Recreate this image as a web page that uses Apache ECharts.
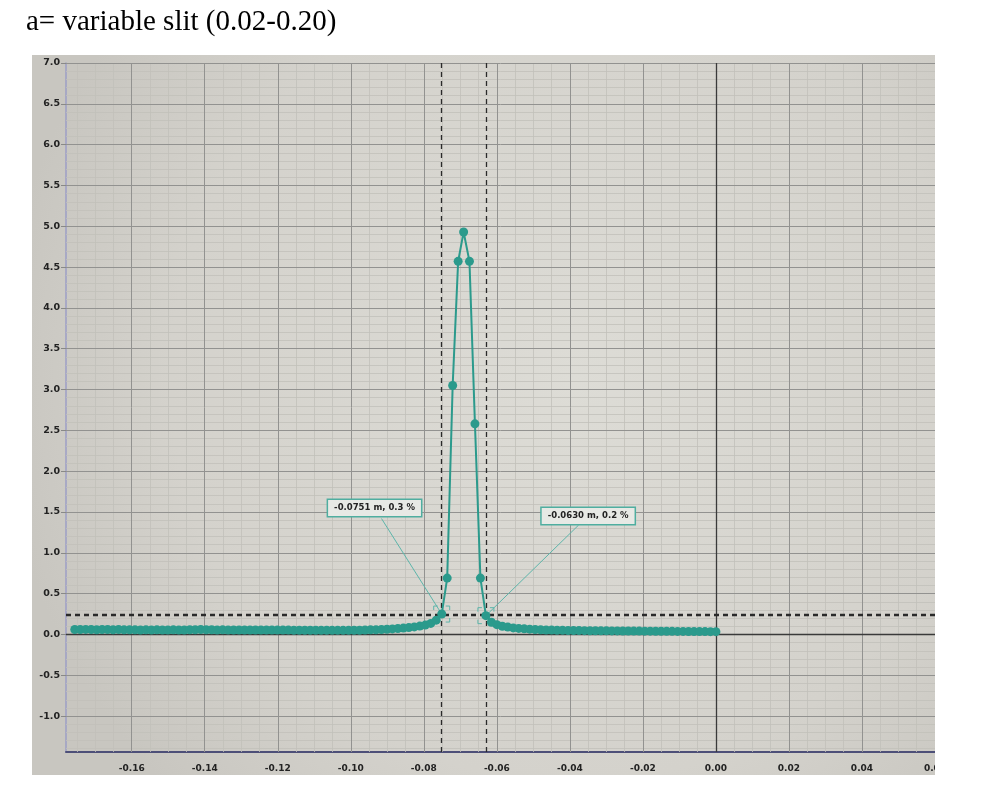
<!DOCTYPE html>
<html><head><meta charset="utf-8">
<script src="https://cdn.jsdelivr.net/npm/echarts@6/dist/echarts.min.js"></script>
<style>html,body{margin:0;padding:0;background:#fff}#c{width:996px;height:802px}</style>
</head><body><div id="c"></div>
<script>
const titleText = 'a= variable slit (0.02-0.20)';

const xValues = [
 -0.1756,-0.1741,-0.1726,-0.1711,-0.1696,-0.1681,-0.1666,-0.1651,-0.1636,-0.1621,
 -0.1606,-0.1591,-0.1576,-0.1561,-0.1546,-0.1531,-0.1516,-0.1501,-0.1486,-0.1471,
 -0.1456,-0.1441,-0.1426,-0.1411,-0.1396,-0.1381,-0.1366,-0.1351,-0.1336,-0.1321,
 -0.1306,-0.1291,-0.1276,-0.1261,-0.1246,-0.1231,-0.1216,-0.1201,-0.1186,-0.1171,
 -0.1156,-0.1141,-0.1126,-0.1111,-0.1096,-0.1081,-0.1066,-0.1051,-0.1036,-0.1021,
 -0.1006,-0.0991,-0.0976,-0.0961,-0.0946,-0.0931,-0.0916,-0.0901,-0.0886,-0.0871,
 -0.0856,-0.0841,-0.0826,-0.0811,-0.0796,-0.0781,-0.0766,-0.0751,
 -0.0736,-0.0721,-0.0706,-0.0691,-0.0675,-0.0660,-0.0645,-0.0630,
 -0.0615,-0.0600,-0.0585,-0.0570,-0.0555,-0.0540,-0.0525,-0.0510,-0.0495,-0.0480,
 -0.0465,-0.0450,-0.0435,-0.0420,-0.0405,-0.0390,-0.0375,-0.0360,-0.0345,-0.0330,
 -0.0315,-0.0300,-0.0285,-0.0270,-0.0255,-0.0240,-0.0225,-0.0210,-0.0195,-0.0180,
 -0.0165,-0.0150,-0.0135,-0.0120,-0.0105,-0.0090,-0.0075,-0.0060,-0.0045,-0.0030,
 -0.0015,0.0000
];
const yValues = [
 0.060,0.060,0.062,0.060,0.058,0.060,0.060,0.058,0.060,0.056,
 0.056,0.056,0.055,0.056,0.055,0.056,0.055,0.055,0.056,0.055,
 0.055,0.058,0.058,0.060,0.058,0.058,0.055,0.056,0.055,0.055,
 0.055,0.054,0.055,0.054,0.055,0.054,0.054,0.053,0.054,0.053,
 0.052,0.052,0.051,0.052,0.051,0.050,0.051,0.050,0.050,0.050,
 0.050,0.051,0.052,0.054,0.056,0.058,0.060,0.064,0.068,0.073,
 0.078,0.084,0.092,0.102,0.115,0.135,0.175,0.250,
 0.690,3.050,4.570,4.930,4.570,2.580,0.690,0.230,
 0.150,0.120,0.100,0.090,0.080,0.074,0.069,0.065,0.061,0.058,
 0.055,0.053,0.051,0.050,0.049,0.048,0.047,0.046,0.045,0.045,
 0.044,0.044,0.043,0.043,0.042,0.042,0.041,0.041,0.040,0.040,
 0.039,0.039,0.038,0.038,0.037,0.037,0.036,0.036,0.035,0.035,
 0.034,0.034
];

const xTickLabels = [-0.16,-0.14,-0.12,-0.10,-0.08,-0.06,-0.04,-0.02,0.00,0.02,0.04,0.06];
const yTickLabels = [-1.0,-0.5,0.0,0.5,1.0,1.5,2.0,2.5,3.0,3.5,4.0,4.5,5.0,5.5,6.0,6.5,7.0];
const xMinor = [-0.175,-0.17,-0.165,-0.155,-0.15,-0.145,-0.135,-0.13,-0.125,-0.115,-0.11,-0.105,
 -0.095,-0.09,-0.085,-0.075,-0.07,-0.065,-0.055,-0.05,-0.045,-0.035,-0.03,-0.025,-0.015,-0.01,-0.005,
 0.005,0.01,0.015,0.025,0.03,0.035,0.045,0.05,0.055];
const yMinor = [-1.4,-1.3,-1.2,-1.1,-0.9,-0.8,-0.7,-0.6,-0.4,-0.3,-0.2,-0.1,0.1,0.2,0.3,0.4,
 0.6,0.7,0.8,0.9,1.1,1.2,1.3,1.4,1.6,1.7,1.8,1.9,2.1,2.2,2.3,2.4,2.6,2.7,2.8,2.9,
 3.1,3.2,3.3,3.4,3.6,3.7,3.8,3.9,4.1,4.2,4.3,4.4,4.6,4.7,4.8,4.9,5.1,5.2,5.3,5.4,
 5.6,5.7,5.8,5.9,6.1,6.2,6.3,6.4,6.6,6.7,6.8,6.9];

const thresholdX = [-0.0751, -0.0630];
const thresholdY = [0.25, 0.23];
const annotationText = ['-0.0751 m, 0.3 %', '-0.0630 m, 0.2 %'];
const annotationPoint = [[-0.0751, 0.25], [-0.0630, 0.23]];
const annotationBox = [[-0.0935, 1.55], [-0.0350, 1.45]];
const leaderStart = [[-0.0916, 1.42], [-0.0376, 1.34]];

const teal = '#2b9a8c';
const chart = echarts.init(document.getElementById('c'));
const fmt = v => (Math.abs(v) < 1e-9 ? 0 : v).toFixed(2);
const mlBase = { silent: true, symbol: ['none', 'none'], label: { show: false }, animation: false, precision: 6 };

chart.setOption({
  animation: false,
  backgroundColor: '#ffffff',
  title: {
    text: titleText, left: 21, top: 3,
    textStyle: { fontFamily: 'Liberation Serif', fontSize: 29, fontWeight: 'normal', color: '#000' }
  },
  graphic: [
    { type: 'rect', z: -100, shape: { x: 32, y: 55, width: 903, height: 720 },
      style: { fill: new echarts.graphic.RadialGradient(0.6, 0.45, 0.8, [
        { offset: 0, color: '#dddcd6' }, { offset: 0.7, color: '#d4d2cc' }, { offset: 1, color: '#c8c6c0' }]) } },
    { type: 'rect', z: 100, shape: { x: 935, y: 0, width: 61, height: 802 }, style: { fill: '#ffffff' } }
  ],
  grid: { left: 66, right: 61, top: 63, bottom: 50 },
  xAxis: {
    type: 'value', min: -0.178, max: 0.06,
    axisLine: { show: true, onZero: false, lineStyle: { color: '#4d4f78', width: 2 } },
    axisTick: { show: false, customValues: xTickLabels },
    axisLabel: { customValues: xTickLabels, formatter: fmt, fontFamily: 'DejaVu Sans', fontWeight: 'bold',
      fontSize: 9, color: '#222', margin: 12 },
    splitLine: { show: false }
  },
  yAxis: {
    type: 'value', min: -1.44, max: 7.0,
    axisLine: { show: true, onZero: false, lineStyle: { color: '#9c9ec6', width: 1.5 } },
    axisTick: { show: true, length: 5, customValues: yTickLabels, lineStyle: { color: '#888' } },
    axisLabel: { customValues: yTickLabels, formatter: v => v.toFixed(1), fontFamily: 'DejaVu Sans',
      fontWeight: 'bold', fontSize: 9.5, color: '#222', margin: 6 },
    splitLine: { show: false }
  },
  series: [
    { type: 'line', data: [], silent: true, z: 1,
      markLine: Object.assign({}, mlBase, {
        lineStyle: { color: '#c2c0ba', width: 0.8, type: 'solid' },
        data: xMinor.map(v => ({ xAxis: v })).concat(yMinor.map(v => ({ yAxis: v }))) }) },
    { type: 'line', data: [], silent: true, z: 2,
      markLine: Object.assign({}, mlBase, {
        lineStyle: { color: '#929290', width: 1, type: 'solid' },
        data: xTickLabels.filter(v => v !== 0).map(v => ({ xAxis: v }))
          .concat(yTickLabels.filter(v => v !== 0).map(v => ({ yAxis: v }))) }) },
    { type: 'line', data: [], silent: true, z: 3,
      markLine: Object.assign({}, mlBase, {
        lineStyle: { color: '#3a3a3a', width: 1.3, type: 'solid' },
        data: [{ xAxis: 0 }, { yAxis: 0 }] }) },
    { type: 'line', data: [], silent: true, z: 4,
      markLine: Object.assign({}, mlBase, {
        lineStyle: { color: '#2a2a2a', width: 1.3, type: [5, 4] },
        data: thresholdX.map(v => ({ xAxis: v })).concat(thresholdY.map(v => ({ yAxis: v }))) }) },
    { type: 'line', name: 'profile', z: 6,
      data: xValues.map((x, i) => [x, yValues[i]]),
      symbol: 'circle', symbolSize: 9, showAllSymbol: true,
      lineStyle: { color: teal, width: 2 }, itemStyle: { color: teal } },
    { type: 'line', data: [], silent: true, z: 7,
      markLine: Object.assign({}, mlBase, {
        lineStyle: { color: '#5db5aa', width: 1, type: 'solid' },
        data: leaderStart.map((s, i) => [{ coord: s }, { coord: annotationPoint[i] }]) }),
      markPoint: { silent: true, animation: false,
        data: annotationPoint.map(p => ({ coord: p, symbol: 'path://M0,4V0H4M12,0H16V4M16,12V16H12M4,16H0V12',
            symbolSize: 16, itemStyle: { color: 'none', borderColor: '#5db5aa', borderWidth: 1 }, label: { show: false } }))
          .concat(annotationBox.map((b, i) => ({ coord: b, symbol: 'rect', symbolSize: 1,
            itemStyle: { color: 'rgba(0,0,0,0)' },
            label: { show: true, position: 'inside', formatter: annotationText[i],
              backgroundColor: '#e7e9e5', borderColor: '#4faea0', borderWidth: 1.5,
              padding: [4, 6, 3, 6], fontFamily: 'DejaVu Sans', fontWeight: 'bold', fontSize: 8.5, color: '#222' } }))) } }
  ]
});
</script></body></html>
